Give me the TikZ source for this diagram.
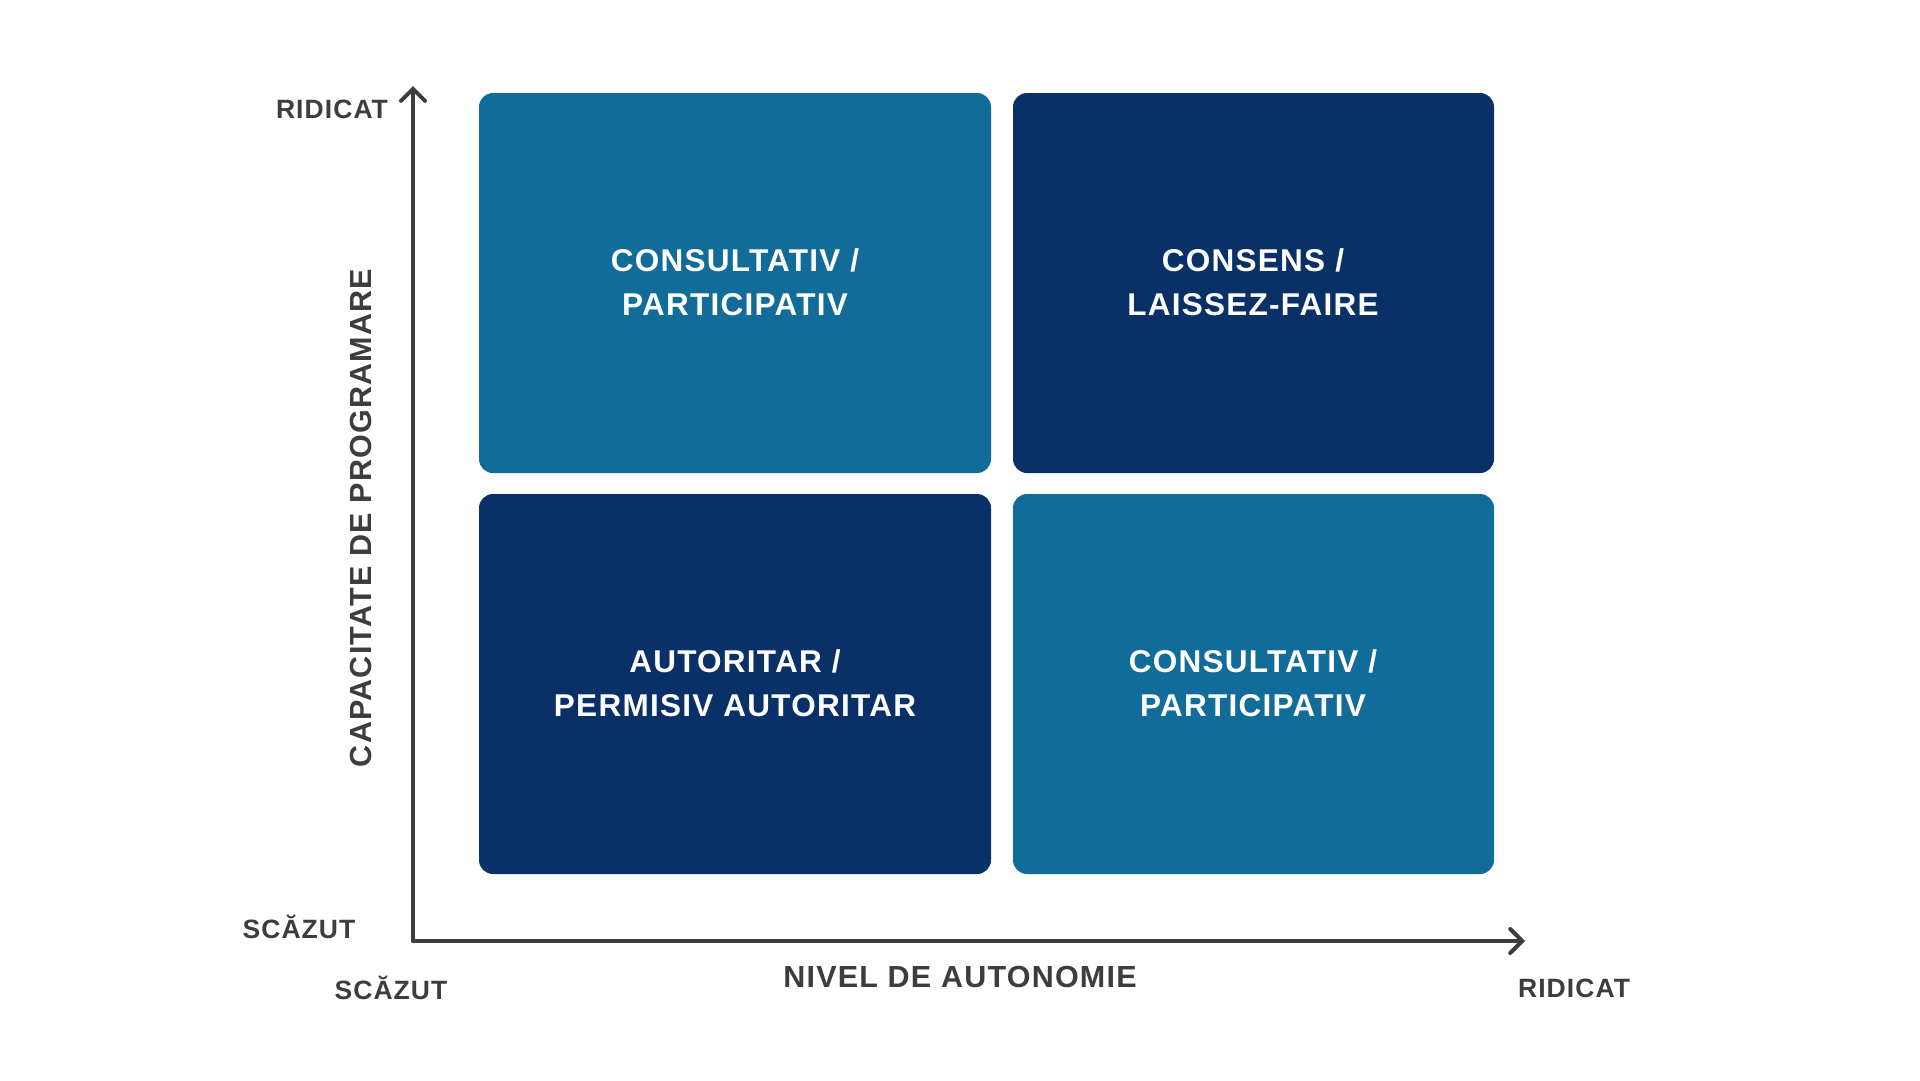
\documentclass[tikz,border=0pt]{standalone}
\usepackage{fontspec}
\setmainfont{Liberation Sans}[LetterSpace=4]
\usetikzlibrary{arrows.meta}
\definecolor{lightq}{HTML}{126C99}
\definecolor{darkq}{HTML}{0A3068}
\definecolor{axisgray}{HTML}{3D3D3D}
\begin{document}
\begin{tikzpicture}[x=1pt,y=-1pt,
  quadtext/.style={text=white, font=\bfseries\fontsize{31.5}{44}\selectfont, align=center},
  axlabel/.style={text=axisgray, font=\bfseries\fontsize{26.5}{30}\selectfont, inner sep=0pt},
  axtitle/.style={text=axisgray, font=\bfseries\fontsize{30.5}{34}\selectfont, inner sep=0pt},
  axisline/.style={draw=axisgray, line width=4pt, line cap=round, -{Straight Barb[length=12pt,width=24pt,line width=4pt,line cap=round]}}]
\useasboundingbox[fill=white] (0,0) rectangle (1920,1080);
% quadrants
\fill[lightq, rounded corners=14pt] (479,93) rectangle (991,473);
\fill[darkq, rounded corners=14pt] (1013,93) rectangle (1494,473);
\fill[darkq, rounded corners=14pt] (479,494) rectangle (991,874);
\fill[lightq, rounded corners=14pt] (1013,494) rectangle (1494,874);
\node[quadtext] (tl) at (735,282) {CONSULTATIV /\\PARTICIPATIV};
\node[quadtext] (tr) at (1253,282) {CONSENS /\\LAISSEZ-FAIRE};
\node[quadtext] (bl) at (735,683) {AUTORITAR /\\PERMISIV AUTORITAR};
\node[quadtext] (br) at (1253,683) {CONSULTATIV /\\PARTICIPATIV};
% axes
\coordinate (origin) at (413,941);
\coordinate (ytop) at (413,86);
\coordinate (xend) at (1525,941);
\draw[axisline] (origin) -- (ytop);
\draw[axisline] (origin) -- (xend);
% labels
\node[axlabel] (yhigh) at (332,109) {RIDICAT};
\node[axlabel] (ylow) at (299,927) {SCĂZUT};
\node[axlabel] (xlow) at (391,988) {SCĂZUT};
\node[axlabel] (xhigh) at (1574,988) {RIDICAT};
\node[axtitle] (xtitle) at (960,977) {NIVEL DE AUTONOMIE};
\node[axtitle, rotate=90] (ytitle) at (361,518) {CAPACITATE DE PROGRAMARE};
\end{tikzpicture}
\end{document}
